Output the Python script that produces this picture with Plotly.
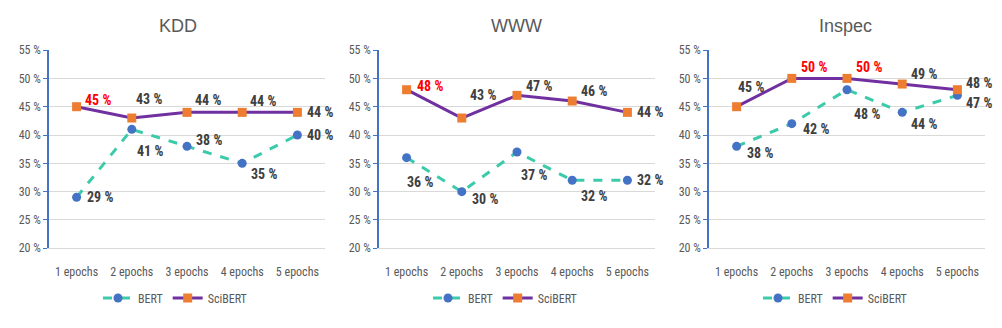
import plotly.graph_objects as go

categories = ["1 epochs", "2 epochs", "3 epochs", "4 epochs", "5 epochs"]
datasets = ["KDD", "WWW", "Inspec"]
bert_kdd = [29, 41, 38, 35, 40]
scibert_kdd = [45, 43, 44, 44, 44]
bert_www = [36, 30, 37, 32, 32]
scibert_www = [48, 43, 47, 46, 44]
bert_inspec = [38, 42, 48, 44, 47]
scibert_inspec = [45, 50, 50, 49, 48]
y_ticks = [20, 25, 30, 35, 40, 45, 50, 55]
y_tick_text = ["20 %", "25 %", "30 %", "35 %", "40 %", "45 %", "50 %", "55 %"]

bert_series = [bert_kdd, bert_www, bert_inspec]
scibert_series = [scibert_kdd, scibert_www, scibert_inspec]

# label offsets in pixels (dx, dy with dy positive = down) -- styling only
bert_off = [
    [(23, 0), (18, 22), (22, -6), (22, 11), (23, 0)],
    [(13, 24), (23, 7), (17, 23), (22, 16), (23, 0)],
    [(23, 7), (24, 5), (20, 24), (22, 12), (22, 8)],
]
sci_off = [
    [(21, -7), (17, -19), (21, -12), (21, -11), (23, 0)],
    [(23, -4), (21, -23), (22, -9), (22, -10), (23, 0)],
    [(14, -20), (22, -11), (22, -11), (22, -10), (22, -7)],
]
red_idx = [[0], [0], [1, 2]]

W, H = 1002, 328
panel_left = [49, 379, 709]
panel_w = 276
y_top, y_bot = 45, 252
title_x = [178, 516, 845]

BLUE = "#4472C4"
TEAL = "#3CCBAA"
PURPLE = "#7030A0"
ORANGE = "#ED7D31"
GRAY = "#595959"
LBL = "#404040"
FONT = "Roboto Condensed, Liberation Sans Narrow, Arial Narrow, sans-serif"

fig = go.Figure()
legends = ["legend", "legend2", "legend3"]
annotations = []

for i in range(3):
    xa = "x" if i == 0 else f"x{i+1}"
    ya = "y" if i == 0 else f"y{i+1}"
    fig.add_trace(go.Scatter(
        x=categories, y=bert_series[i], name="BERT", mode="lines+markers",
        line=dict(color=TEAL, width=3, dash="dash"),
        marker=dict(color=BLUE, size=9, symbol="circle"),
        xaxis=xa, yaxis=ya, legend=legends[i], cliponaxis=False,
    ))
    fig.add_trace(go.Scatter(
        x=categories, y=scibert_series[i], name="SciBERT", mode="lines+markers",
        line=dict(color=PURPLE, width=3),
        marker=dict(color=ORANGE, size=9, symbol="square"),
        xaxis=xa, yaxis=ya, legend=legends[i], cliponaxis=False,
    ))
    for k, cat in enumerate(categories):
        dx, dy = bert_off[i][k]
        annotations.append(dict(
            x=cat, y=bert_series[i][k], xref=xa, yref=ya, text=f"{bert_series[i][k]} %",
            showarrow=False, xanchor="center", yanchor="middle", xshift=dx, yshift=-dy,
            font=dict(family=FONT, size=14, color=LBL, weight="bold"),
        ))
        dx, dy = sci_off[i][k]
        col = "#FF0000" if k in red_idx[i] else LBL
        annotations.append(dict(
            x=cat, y=scibert_series[i][k], xref=xa, yref=ya, text=f"{scibert_series[i][k]} %",
            showarrow=False, xanchor="center", yanchor="middle", xshift=dx, yshift=-dy,
            font=dict(family=FONT, size=14, color=col, weight="bold"),
        ))

layout = dict(
    width=W, height=H, margin=dict(l=0, r=0, t=0, b=0),
    plot_bgcolor="white", paper_bgcolor="white",
    font=dict(family=FONT, color=GRAY, size=12),
)
for i in range(3):
    sx = "" if i == 0 else str(i + 1)
    d0 = panel_left[i] / W
    d1 = (panel_left[i] + panel_w) / W
    layout[f"xaxis{sx}"] = dict(
        domain=[d0, d1], anchor=f"y{sx}", type="category",
        range=[-0.5, 4.5], showgrid=False, showline=True, linecolor="#D9D9D9", linewidth=1,
        ticks="", ticklabelstandoff=12,
        tickfont=dict(family=FONT, size=12, color=GRAY), fixedrange=True,
    )
    layout[f"yaxis{sx}"] = dict(
        domain=[1 - y_bot / H, 1 - y_top / H], anchor=f"x{sx}",
        range=[20, 55], tickvals=y_ticks, ticktext=y_tick_text,
        showgrid=True, gridcolor="#D9D9D9", gridwidth=1,
        showline=True, linecolor=BLUE, linewidth=1.5,
        ticks="outside", ticklen=4, tickcolor=BLUE, zeroline=False,
        tickfont=dict(family=FONT, size=12, color=GRAY), fixedrange=True,
    )
    annotations.append(dict(
        text=datasets[i], x=title_x[i] / W, y=1 - 20 / H, xref="paper", yref="paper",
        xanchor="center", yanchor="middle", showarrow=False,
        font=dict(family="Liberation Sans, Arial, sans-serif", size=18, color=GRAY),
    ))
    leg_name = "legend" if i == 0 else f"legend{i+1}"
    layout[leg_name] = dict(
        orientation="h", x=(panel_left[i] + panel_w / 2 - 12) / W, y=1 - 304 / H,
        xanchor="center", yanchor="middle", itemwidth=30,
        font=dict(family=FONT, size=12, color=GRAY), bgcolor="rgba(0,0,0,0)",
    )

layout["annotations"] = annotations
fig.update_layout(**layout)
fig.write_html("out.html")
